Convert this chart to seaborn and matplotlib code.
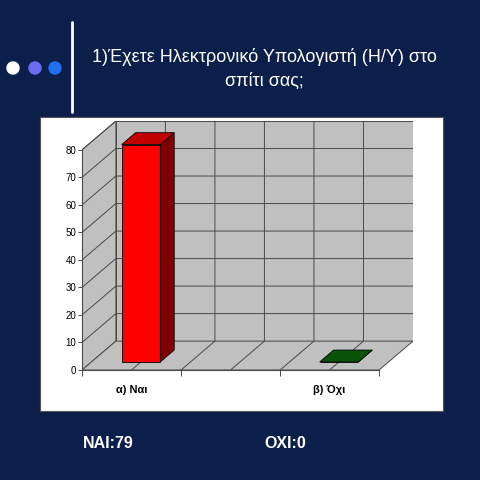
import matplotlib
matplotlib.use("Agg")
import numpy as np
import pandas as pd
import seaborn as sns
import matplotlib.pyplot as plt
import matplotlib.transforms as mtransforms
from matplotlib.patches import Polygon, Rectangle, Circle
from matplotlib.lines import Line2D

# data
categories = ["α) Ναι", "β) Όχι"]
counts = [79, 0]
axis_order = ["α) Ναι", " ", "β) Όχι"]
bar_colors = {"α) Ναι": "#ff0000", "β) Όχι": "#0a6e0a"}
y_ticks = [0, 10, 20, 30, 40, 50, 60, 70, 80]
title = "1)Έχετε Ηλεκτρονικό Υπολογιστή (Η/Υ) στο\nσπίτι σας;"
summary_labels = ["ΝΑΙ:79", "ΟΧΙ:0"]

NAVY = "#0c1f4a"
WALL = "#c0c0c0"
GRID = "#4a4a4a"
FONT = ["Liberation Sans", "DejaVu Sans"]

# oblique "3d" depth offset in data units
DX, DY = 0.342, 10.5
Z0, ZB = 0.28, 0.41  # bar front position and bar depth (fraction of depth)

sns.set_theme(style="white")
plt.rcParams["font.family"] = FONT

fig = plt.figure(figsize=(4.8, 4.8), dpi=100, facecolor=NAVY)

# white chart panel
fig.patches.append(Rectangle((40 / 480, 69 / 480), 403 / 480, 294 / 480,
                             transform=fig.transFigure, facecolor="white",
                             edgecolor="#555555", linewidth=0.8, zorder=-5))

ax = fig.add_axes([82 / 480, 110 / 480, 331 / 480, 249 / 480])
ax.set_facecolor("none")
ax.set_zorder(2)

df = pd.DataFrame({"cat": categories, "n": counts})
sns.barplot(data=df, x="cat", y="n", order=axis_order, hue="cat",
            palette=bar_colors, saturation=1, width=0.39, legend=False, ax=ax,
            edgecolor="black", linewidth=0.6, zorder=5)
bars = list(ax.patches)

x_lo, x_hi = -0.5, len(axis_order) - 0.5
y_top = y_ticks[-1]

# walls and floor
wall_kw = dict(facecolor=WALL, edgecolor=GRID, linewidth=0.7, zorder=1)
ax.add_patch(Polygon([(x_lo + DX, DY), (x_hi + DX, DY), (x_hi + DX, y_top + DY),
                      (x_lo + DX, y_top + DY)], **wall_kw))
ax.add_patch(Polygon([(x_lo, 0), (x_lo + DX, DY), (x_lo + DX, y_top + DY),
                      (x_lo, y_top)], **wall_kw))
ax.add_patch(Polygon([(x_lo, 0), (x_hi, 0), (x_hi + DX, DY), (x_lo + DX, DY)], **wall_kw))

line_kw = dict(color=GRID, linewidth=0.7, zorder=2)
for v in y_ticks[1:]:
    ax.add_line(Line2D([x_lo, x_lo + DX, x_hi + DX], [v, v + DY, v + DY], **line_kw))
for gx in np.arange(x_lo + 0.5, x_hi, 0.5):
    ax.add_line(Line2D([gx, gx + DX, gx + DX], [0, DY, y_top + DY], **line_kw))

# push the bars into depth and add their side and top faces
shift = mtransforms.Affine2D().translate(Z0 * DX, Z0 * DY) + ax.transData
bx, by = ZB * DX, ZB * DY
for p in bars:
    p.set_transform(shift)
    fc = np.array(p.get_facecolor()[:3])
    x0 = p.get_x() + Z0 * DX
    y0 = Z0 * DY
    w, h = p.get_width(), p.get_height()
    ax.add_patch(Polygon([(x0 + w, y0), (x0 + w + bx, y0 + by),
                          (x0 + w + bx, y0 + h + by), (x0 + w, y0 + h)],
                         facecolor=fc * 0.5, edgecolor="black", linewidth=0.6, zorder=5))
    ax.add_patch(Polygon([(x0, y0 + h), (x0 + w, y0 + h), (x0 + w + bx, y0 + h + by),
                          (x0 + bx, y0 + h + by)],
                         facecolor=fc * 0.76, edgecolor="black", linewidth=0.6, zorder=6))

ax.set_xlim(x_lo, x_hi + DX)
ax.set_ylim(0, y_top + DY)
ax.set_xlabel("")
ax.set_ylabel("")

for s in ["top", "right"]:
    ax.spines[s].set_visible(False)
ax.spines["left"].set_bounds(0, y_top)
ax.spines["bottom"].set_bounds(x_lo, x_hi)
for s in ["left", "bottom"]:
    ax.spines[s].set_color(GRID)
    ax.spines[s].set_linewidth(0.8)
    ax.spines[s].set_zorder(3)

ax.set_yticks(y_ticks)
ax.set_yticklabels([str(v) for v in y_ticks], fontsize=7, color="black")
ax.tick_params(axis="y", left=True, length=3, width=0.7, color=GRID, pad=1)

ax.set_xticks(np.arange(x_lo, x_hi + 0.01, 1.0))
ax.set_xticklabels([""] * len(axis_order) + [""])
ax.set_xticks([axis_order.index(c) for c in categories], minor=True)
ax.set_xticklabels(categories, minor=True, fontsize=8, fontweight="bold", color="black")
ax.tick_params(axis="x", which="major", bottom=True, length=4, width=0.7, color=GRID)
ax.tick_params(axis="x", which="minor", bottom=False, length=0, pad=11)

# slide decoration
fig.text(264 / 480, 1 - 69 / 480, title, ha="center", va="center", color="white",
         fontsize=13, linespacing=1.5, family=FONT)
for cx, col in zip([13, 35, 55], ["white", "#6c6cf2", "#1f6ff0"]):
    fig.patches.append(Circle((cx / 480, 1 - 68 / 480), 6 / 480,
                              transform=fig.transFigure, color=col))
fig.add_artist(Line2D([72 / 480, 72 / 480], [1 - 22 / 480, 1 - 112 / 480],
                      color="white", linewidth=2))
for cx, lab in zip([108, 285], summary_labels):
    fig.text(cx / 480, 1 - 443 / 480, lab, ha="center", va="center", color="white",
             fontsize=11.5, fontweight="bold", family=FONT)

fig.savefig("out.png", dpi=100, facecolor=NAVY)
